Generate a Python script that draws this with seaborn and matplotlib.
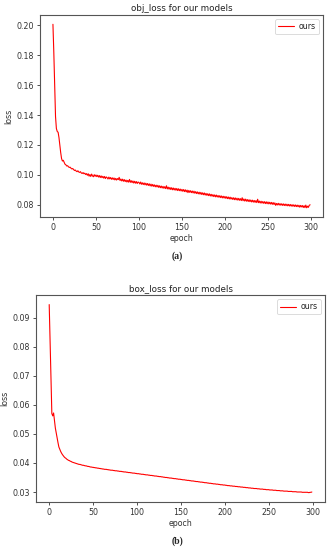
import matplotlib
matplotlib.use("Agg")
import matplotlib.pyplot as plt
import seaborn as sns
import numpy as np

obj_loss = [
    0.2005, 0.1820, 0.1600, 0.1390, 0.1310, 0.1290, 0.1285, 0.1250, 0.1200, 0.1150,
    0.1110, 0.1093, 0.1098, 0.1085, 0.1072, 0.1068, 0.1060, 0.1062, 0.1055, 0.1050,
    0.1052, 0.1045, 0.1040, 0.1043, 0.1036, 0.1030, 0.1033, 0.1026, 0.1022, 0.1028,
    0.1020, 0.1017, 0.1022, 0.1013, 0.1010, 0.1016, 0.1008, 0.1012, 0.1003, 0.1009,
    0.0998, 0.1008, 0.0992, 0.1003, 0.0990, 0.1006, 0.0994, 0.0988, 0.1002, 0.0991,
    0.1000, 0.0989, 0.0998, 0.0986, 0.0996, 0.0983, 0.0994, 0.0982, 0.0991, 0.0979,
    0.0990, 0.0976, 0.0987, 0.0982, 0.0973, 0.0986, 0.0974, 0.0983, 0.0971, 0.0981,
    0.0970, 0.0980, 0.0967, 0.0977, 0.0966, 0.0976, 0.0969, 0.0984, 0.0963, 0.0973,
    0.0960, 0.0972, 0.0958, 0.0969, 0.0956, 0.0966, 0.0953, 0.0964, 0.0952, 0.0970,
    0.0951, 0.0962, 0.0949, 0.0960, 0.0946, 0.0958, 0.0945, 0.0956, 0.0943, 0.0953,
    0.0950, 0.0940, 0.0953, 0.0938, 0.0948, 0.0936, 0.0947, 0.0934, 0.0945, 0.0932,
    0.0943, 0.0930, 0.0941, 0.0927, 0.0939, 0.0925, 0.0937, 0.0924, 0.0934, 0.0921,
    0.0932, 0.0920, 0.0931, 0.0917, 0.0928, 0.0915, 0.0926, 0.0913, 0.0924, 0.0911,
    0.0922, 0.0909, 0.0928, 0.0907, 0.0919, 0.0905, 0.0917, 0.0903, 0.0915, 0.0901,
    0.0913, 0.0900, 0.0911, 0.0898, 0.0910, 0.0896, 0.0908, 0.0895, 0.0906, 0.0893,
    0.0904, 0.0891, 0.0903, 0.0889, 0.0901, 0.0887, 0.0899, 0.0882, 0.0897, 0.0884,
    0.0895, 0.0882, 0.0893, 0.0880, 0.0892, 0.0878, 0.0889, 0.0876, 0.0887, 0.0874,
    0.0885, 0.0872, 0.0884, 0.0870, 0.0881, 0.0868, 0.0880, 0.0866, 0.0877, 0.0864,
    0.0875, 0.0862, 0.0874, 0.0860, 0.0871, 0.0858, 0.0869, 0.0856, 0.0867, 0.0854,
    0.0866, 0.0853, 0.0863, 0.0851, 0.0862, 0.0849, 0.0860, 0.0847, 0.0858, 0.0846,
    0.0857, 0.0844, 0.0855, 0.0842, 0.0853, 0.0840, 0.0852, 0.0839, 0.0849, 0.0837,
    0.0848, 0.0835, 0.0847, 0.0834, 0.0845, 0.0832, 0.0844, 0.0831, 0.0842, 0.0829,
    0.0848, 0.0828, 0.0840, 0.0826, 0.0839, 0.0825, 0.0836, 0.0823, 0.0835, 0.0822,
    0.0833, 0.0820, 0.0832, 0.0819, 0.0830, 0.0817, 0.0829, 0.0816, 0.0838, 0.0815,
    0.0826, 0.0813, 0.0825, 0.0812, 0.0823, 0.0811, 0.0822, 0.0809, 0.0821, 0.0808,
    0.0820, 0.0807, 0.0818, 0.0806, 0.0817, 0.0804, 0.0816, 0.0803, 0.0814, 0.0797,
    0.0810, 0.0800, 0.0811, 0.0799, 0.0809, 0.0798, 0.0808, 0.0797, 0.0807, 0.0796,
    0.0806, 0.0795, 0.0805, 0.0794, 0.0804, 0.0793, 0.0803, 0.0792, 0.0802, 0.0791,
    0.0801, 0.0790, 0.0800, 0.0789, 0.0799, 0.0788, 0.0798, 0.0785, 0.0797, 0.0787,
    0.0796, 0.0783, 0.0795, 0.0782, 0.0799, 0.0781, 0.0792, 0.0784, 0.0798, 0.0801,
]

box_loss = [
    0.0945, 0.0820, 0.0690, 0.0570, 0.0562, 0.0572, 0.0545, 0.0520, 0.0503, 0.0488,
    0.0470, 0.0455, 0.0447, 0.0440, 0.0434, 0.0429, 0.0425, 0.0421, 0.0418, 0.0416,
    0.0413, 0.0411, 0.0409, 0.0408, 0.0406, 0.0405, 0.0403, 0.0402, 0.0401, 0.0400,
    0.0399, 0.0398, 0.0397, 0.0396, 0.0395, 0.0395, 0.0394, 0.0393, 0.0392, 0.0392,
    0.0391, 0.0390, 0.0390, 0.0389, 0.0388, 0.0388, 0.0387, 0.0386, 0.0386, 0.0385,
    0.0385, 0.0384, 0.0384, 0.0383, 0.0383, 0.0382, 0.0382, 0.0381, 0.0381, 0.0380,
    0.0380, 0.0379, 0.0379, 0.0378, 0.0378, 0.0378, 0.0377, 0.0377, 0.0376, 0.0376,
    0.0375, 0.0375, 0.0375, 0.0374, 0.0374, 0.0373, 0.0373, 0.0373, 0.0372, 0.0372,
    0.0371, 0.0371, 0.0371, 0.0370, 0.0370, 0.0369, 0.0369, 0.0369, 0.0368, 0.0368,
    0.0367, 0.0367, 0.0367, 0.0366, 0.0366, 0.0365, 0.0365, 0.0365, 0.0364, 0.0364,
    0.0363, 0.0363, 0.0363, 0.0362, 0.0362, 0.0361, 0.0361, 0.0361, 0.0360, 0.0360,
    0.0359, 0.0359, 0.0359, 0.0358, 0.0358, 0.0357, 0.0357, 0.0357, 0.0356, 0.0356,
    0.0355, 0.0355, 0.0355, 0.0354, 0.0354, 0.0353, 0.0353, 0.0353, 0.0352, 0.0352,
    0.0351, 0.0351, 0.0350, 0.0350, 0.0350, 0.0349, 0.0349, 0.0348, 0.0348, 0.0348,
    0.0347, 0.0347, 0.0346, 0.0346, 0.0346, 0.0345, 0.0345, 0.0344, 0.0344, 0.0344,
    0.0343, 0.0343, 0.0342, 0.0342, 0.0342, 0.0341, 0.0341, 0.0340, 0.0340, 0.0340,
    0.0339, 0.0339, 0.0338, 0.0338, 0.0338, 0.0337, 0.0337, 0.0336, 0.0336, 0.0336,
    0.0335, 0.0335, 0.0334, 0.0334, 0.0334, 0.0333, 0.0333, 0.0332, 0.0332, 0.0332,
    0.0331, 0.0331, 0.0330, 0.0330, 0.0330, 0.0329, 0.0329, 0.0328, 0.0328, 0.0328,
    0.0327, 0.0327, 0.0327, 0.0326, 0.0326, 0.0325, 0.0325, 0.0325, 0.0324, 0.0324,
    0.0324, 0.0323, 0.0323, 0.0322, 0.0322, 0.0322, 0.0321, 0.0321, 0.0321, 0.0320,
    0.0320, 0.0320, 0.0319, 0.0319, 0.0319, 0.0318, 0.0318, 0.0318, 0.0317, 0.0317,
    0.0317, 0.0316, 0.0316, 0.0316, 0.0315, 0.0315, 0.0315, 0.0314, 0.0314, 0.0314,
    0.0313, 0.0313, 0.0313, 0.0312, 0.0312, 0.0312, 0.0312, 0.0311, 0.0311, 0.0311,
    0.0310, 0.0310, 0.0310, 0.0310, 0.0309, 0.0309, 0.0309, 0.0308, 0.0308, 0.0308,
    0.0308, 0.0307, 0.0307, 0.0307, 0.0307, 0.0306, 0.0306, 0.0306, 0.0306, 0.0305,
    0.0305, 0.0305, 0.0305, 0.0304, 0.0304, 0.0304, 0.0304, 0.0303, 0.0303, 0.0303,
    0.0303, 0.0303, 0.0302, 0.0302, 0.0302, 0.0302, 0.0302, 0.0301, 0.0301, 0.0301,
    0.0301, 0.0301, 0.0300, 0.0300, 0.0300, 0.0300, 0.0300, 0.0300, 0.0299, 0.0299,
    0.0299, 0.0299, 0.0299, 0.0299, 0.0299, 0.0298, 0.0298, 0.0299, 0.0299, 0.0300,
]

epochs = list(range(len(obj_loss)))
titles = ["obj_loss for our models", "box_loss for our models"]
captions = ["(a)", "(b)"]
series_label = "ours"

sns.set_theme(style="ticks")
plt.rcParams["font.family"] = ["DejaVu Sans"]

fig = plt.figure(figsize=(3.34, 5.5), dpi=100)
ax_a = fig.add_axes([0.120, 0.6055, 0.847, 0.367])
ax_b = fig.add_axes([0.108, 0.0873, 0.865, 0.376])

fs = 5.7
edge = "#555555"
for ax, vals, title in [(ax_a, obj_loss, titles[0]), (ax_b, box_loss, titles[1])]:
    sns.lineplot(x=epochs, y=vals, ax=ax, color="red", linewidth=0.8, label=series_label)
    ax.set_title(title, fontsize=6.3, color="#222222", pad=3)
    ax.set_xlabel("epoch", fontsize=fs, color="#333333", labelpad=1.5)
    ax.set_ylabel("loss", fontsize=fs, color="#333333", labelpad=2)
    ax.tick_params(axis="both", labelsize=fs, colors="#333333", length=2.5, width=0.6, pad=2)
    ax.set_xticks([0, 50, 100, 150, 200, 250, 300])
    for s in ax.spines.values():
        s.set_color(edge)
        s.set_linewidth(0.8)
    leg = ax.legend(loc="upper right", fontsize=fs, frameon=True, handlelength=2.0,
                    borderpad=0.4, handletextpad=0.6)
    leg.get_frame().set_edgecolor("#cccccc")
    leg.get_frame().set_linewidth(0.6)
    ax.margins(x=0.05, y=0.05)

fig.text(0.53, 1 - 256 / 550, captions[0], ha="center", va="center",
         fontsize=7, family="Liberation Serif", fontweight="bold")
fig.text(0.53, 1 - 541 / 550, captions[1], ha="center", va="center",
         fontsize=7, family="Liberation Serif", fontweight="bold")

fig.savefig("out.png", dpi=100, facecolor="white")
